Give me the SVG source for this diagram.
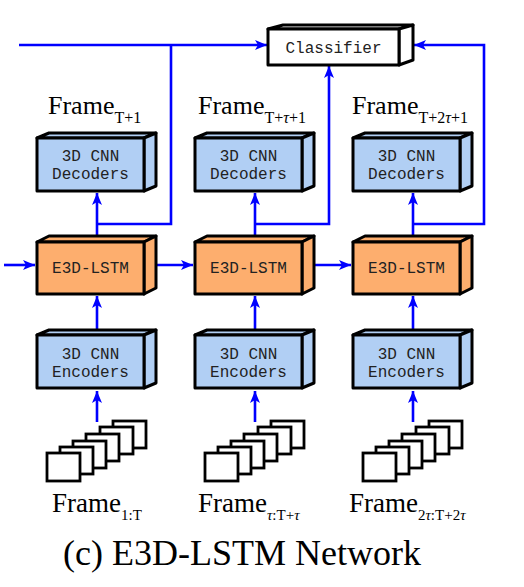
<svg xmlns="http://www.w3.org/2000/svg" width="524" height="587" viewBox="0 0 524 587">
<defs>
<style>
.box{stroke:#000;stroke-width:3;stroke-linejoin:round}
.cnn{fill:#b1cff4}
.lstm{fill:#fdae6e}
.cls{fill:#fff}
.mono{font-family:"Liberation Mono","DejaVu Sans Mono",monospace;font-size:16px;fill:#222;text-anchor:middle}
.lbl{font-family:"Liberation Serif","Times New Roman",serif;fill:#000}
.conn{fill:none;stroke:#0000ff;stroke-width:2.6}
.frm{fill:#fff;stroke:#000;stroke-width:2.8}
</style>
<marker id="ah" viewBox="0 0 12 10" refX="12" refY="5" markerWidth="12" markerHeight="10" markerUnits="userSpaceOnUse" orient="auto">
<path d="M0,0 L12,5 L0,10 L3,5 z" fill="#0000ff"/>
</marker>
<g id="cube-dec">
<path class="box cnn" d="M0,0 L12,-5 L119,-5 L107,0 z"/>
<path class="box cnn" d="M107,0 L119,-5 L119,48 L107,53 z"/>
<rect class="box cnn" x="0" y="0" width="107" height="53"/>
</g>
<g id="cube-lstm">
<path class="box lstm" d="M0,0 L12,-6 L119,-6 L107,0 z"/>
<path class="box lstm" d="M107,0 L119,-6 L119,46 L107,52 z"/>
<rect class="box lstm" x="0" y="0" width="107" height="52"/>
</g>
<g id="stack">
<rect class="frm" x="66" y="0" width="33" height="27"/>
<rect class="frm" x="53" y="6" width="33" height="27"/>
<rect class="frm" x="39" y="13" width="33" height="27"/>
<rect class="frm" x="26" y="20" width="33" height="27"/>
<rect class="frm" x="13" y="26" width="33" height="27"/>
<rect class="frm" x="0" y="32" width="33" height="28"/>
</g>
</defs>
<rect width="524" height="587" fill="#fff"/>

<g id="connectors">
<line class="conn" x1="19" y1="45" x2="267" y2="45" marker-end="url(#ah)"/>
<polyline class="conn" points="97,224 171,224 171,45"/>
<polyline class="conn" points="255,224 329,224 329,66" marker-end="url(#ah)"/>
<polyline class="conn" points="413,224 484,224 484,45 414,45" marker-end="url(#ah)"/>
<line class="conn" x1="4" y1="265" x2="35" y2="265" marker-end="url(#ah)"/>
<line class="conn" x1="157" y1="265" x2="193" y2="265" marker-end="url(#ah)"/>
<line class="conn" x1="315" y1="265" x2="351" y2="265" marker-end="url(#ah)"/>
<line class="conn" x1="97" y1="236" x2="97" y2="193" marker-end="url(#ah)"/>
<line class="conn" x1="255" y1="236" x2="255" y2="193" marker-end="url(#ah)"/>
<line class="conn" x1="413" y1="236" x2="413" y2="193" marker-end="url(#ah)"/>
<line class="conn" x1="97" y1="330" x2="97" y2="296" marker-end="url(#ah)"/>
<line class="conn" x1="255" y1="330" x2="255" y2="296" marker-end="url(#ah)"/>
<line class="conn" x1="413" y1="330" x2="413" y2="296" marker-end="url(#ah)"/>
<line class="conn" x1="97" y1="422" x2="97" y2="391" marker-end="url(#ah)"/>
<line class="conn" x1="255" y1="422" x2="255" y2="391" marker-end="url(#ah)"/>
<line class="conn" x1="413" y1="422" x2="413" y2="391" marker-end="url(#ah)"/>
</g>

<g id="classifier">
<path class="box cls" d="M268,29 L283,25 L413,25 L399,29 z"/>
<path class="box cls" d="M399,29 L413,25 L413,60 L399,65 z"/>
<rect class="box cls" x="268" y="29" width="131" height="36"/>
<text class="mono" x="333.5" y="53">Classifier</text>
</g>

<g id="decoder1"><use href="#cube-dec" x="37" y="138"/><text class="mono" x="90.5" y="161">3D CNN</text><text class="mono" x="90.5" y="179">Decoders</text></g>
<g id="decoder2"><use href="#cube-dec" x="195" y="138"/><text class="mono" x="248.5" y="161">3D CNN</text><text class="mono" x="248.5" y="179">Decoders</text></g>
<g id="decoder3"><use href="#cube-dec" x="353" y="138"/><text class="mono" x="406.5" y="161">3D CNN</text><text class="mono" x="406.5" y="179">Decoders</text></g>

<g id="lstm1"><use href="#cube-lstm" x="37" y="242"/><text class="mono" x="90.5" y="273">E3D-LSTM</text></g>
<g id="lstm2"><use href="#cube-lstm" x="195" y="242"/><text class="mono" x="248.5" y="273">E3D-LSTM</text></g>
<g id="lstm3"><use href="#cube-lstm" x="353" y="242"/><text class="mono" x="406.5" y="273">E3D-LSTM</text></g>

<g id="encoder1"><use href="#cube-dec" x="37" y="335"/><text class="mono" x="90.5" y="359">3D CNN</text><text class="mono" x="90.5" y="377">Encoders</text></g>
<g id="encoder2"><use href="#cube-dec" x="195" y="335"/><text class="mono" x="248.5" y="359">3D CNN</text><text class="mono" x="248.5" y="377">Encoders</text></g>
<g id="encoder3"><use href="#cube-dec" x="353" y="335"/><text class="mono" x="406.5" y="359">3D CNN</text><text class="mono" x="406.5" y="377">Encoders</text></g>

<g id="frames1"><use href="#stack" x="47" y="421"/></g>
<g id="frames2"><use href="#stack" x="205" y="421"/></g>
<g id="frames3"><use href="#stack" x="363" y="421"/></g>

<g id="labels-top" class="lbl">
<text x="48" y="114" font-size="26">Frame<tspan font-size="16" dy="9">T+1</tspan></text>
<text x="198" y="114" font-size="26">Frame<tspan font-size="16" dy="9">T+<tspan font-style="italic">τ</tspan>+1</tspan></text>
<text x="352" y="114" font-size="26">Frame<tspan font-size="16" dy="9">T+2<tspan font-style="italic">τ</tspan>+1</tspan></text>
</g>
<g id="labels-bottom" class="lbl">
<text x="52" y="512" font-size="27">Frame<tspan font-size="15" dy="8">1:T</tspan></text>
<text x="198" y="512" font-size="27">Frame<tspan font-size="15" dy="8"><tspan font-style="italic">τ</tspan>:T+<tspan font-style="italic">τ</tspan></tspan></text>
<text x="349" y="512" font-size="27">Frame<tspan font-size="15" dy="8">2<tspan font-style="italic">τ</tspan>:T+2<tspan font-style="italic">τ</tspan></tspan></text>
</g>
<text id="caption" class="lbl" x="63" y="565" font-size="36">(c) E3D-LSTM Network</text>
</svg>
